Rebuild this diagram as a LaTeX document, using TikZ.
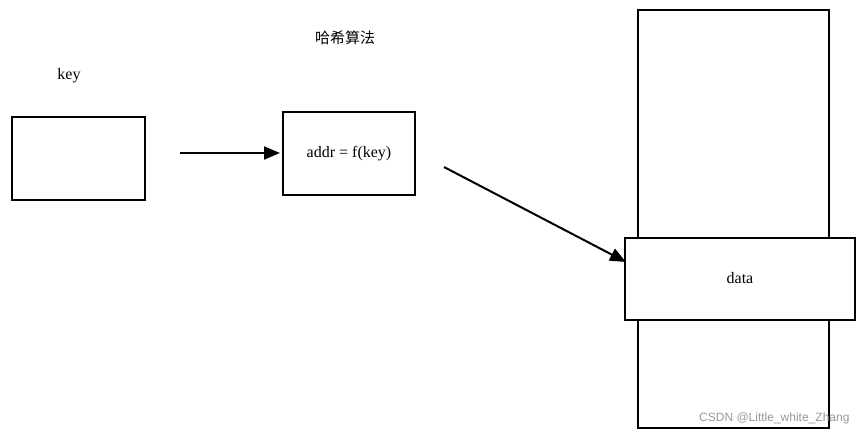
\documentclass[tikz,border=0pt]{standalone}
\usepackage{fontspec}
\setmainfont{Liberation Serif}
\newfontfamily\cjk{Noto Sans CJK SC}
\newfontfamily\wm{Liberation Sans}
\usetikzlibrary{arrows.meta}
\begin{document}
\begin{tikzpicture}[x=1pt,y=-1pt,
  box/.style={draw,line width=1.2pt,fill=white},
  arr/.style={line width=2pt,-{Triangle[length=16pt,width=13pt]}},
  lbl/.style={font=\fontsize{16}{18}\selectfont}]
\useasboundingbox (0,0) rectangle (867,439);
\node[lbl] (k) at (69,76) {key};
\draw[box] (12,117) rectangle (145,200);
\coordinate (a1) at (180,153);
\coordinate (a2) at (280,153);
\draw[arr] (a1) -- (a2);
\node[lbl,font=\cjk\fontsize{15}{18}\selectfont] (h) at (345,38) {哈希算法};
\draw[box] (283,112) rectangle (415,195);
\node[lbl] (f) at (349,154) {addr = f(key)};
\draw[box] (638,10) rectangle (829,428);
\draw[box] (625,238) rectangle (855,320);
\node[lbl] (d) at (740,278) {data};
\coordinate (b1) at (444,167);
\coordinate (b2) at (626,262);
\draw[arr] (b1) -- (b2);
\node[font=\wm\fontsize{12}{14}\selectfont,text=gray!80,anchor=east] (w) at (853,418) {CSDN @Little\_white\_Zhang};
\end{tikzpicture}
\end{document}
